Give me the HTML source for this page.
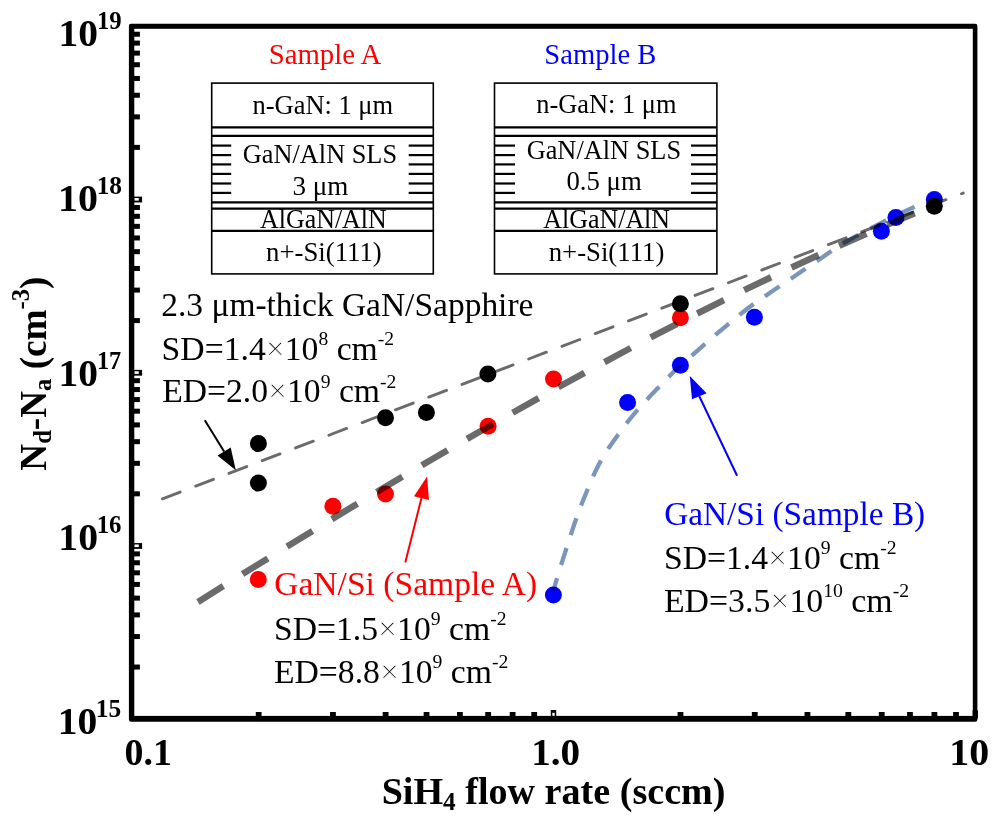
<!DOCTYPE html><html><head><meta charset="utf-8"><style>html,body{margin:0;padding:0;background:#fff;overflow:hidden;}svg{display:block;}text{font-family:"Liberation Serif",serif;}</style></head><body><svg width="1004" height="824" viewBox="0 0 1004 824"><rect width="1004" height="824" fill="#fff"/><rect x="128.9" y="23.7" width="848.5" height="698.1" rx="2.2" fill="#000"/><rect x="134.3" y="28.8" width="838.5" height="687.1" fill="#fff"/><rect x="211.7" y="83.1" width="221.6" height="190.8" fill="none" stroke="#000" stroke-width="1.6"/><line x1="211.7" y1="127.3" x2="433.3" y2="127.3" stroke="#000" stroke-width="2.2"/><line x1="211.7" y1="135.9" x2="433.3" y2="135.9" stroke="#000" stroke-width="2.2"/><line x1="211.7" y1="202.4" x2="433.3" y2="202.4" stroke="#000" stroke-width="2.2"/><line x1="211.7" y1="208.7" x2="433.3" y2="208.7" stroke="#000" stroke-width="2.2"/><line x1="211.7" y1="230.9" x2="433.3" y2="230.9" stroke="#000" stroke-width="2.2"/><line x1="211.7" y1="145.6" x2="231.2" y2="145.6" stroke="#000" stroke-width="2.2"/><line x1="408.7" y1="145.6" x2="433.3" y2="145.6" stroke="#000" stroke-width="2.2"/><line x1="211.7" y1="155.1" x2="231.2" y2="155.1" stroke="#000" stroke-width="2.2"/><line x1="408.7" y1="155.1" x2="433.3" y2="155.1" stroke="#000" stroke-width="2.2"/><line x1="211.7" y1="164.4" x2="231.2" y2="164.4" stroke="#000" stroke-width="2.2"/><line x1="408.7" y1="164.4" x2="433.3" y2="164.4" stroke="#000" stroke-width="2.2"/><line x1="211.7" y1="173.9" x2="231.2" y2="173.9" stroke="#000" stroke-width="2.2"/><line x1="408.7" y1="173.9" x2="433.3" y2="173.9" stroke="#000" stroke-width="2.2"/><line x1="211.7" y1="183.5" x2="231.2" y2="183.5" stroke="#000" stroke-width="2.2"/><line x1="408.7" y1="183.5" x2="433.3" y2="183.5" stroke="#000" stroke-width="2.2"/><line x1="211.7" y1="192.9" x2="231.2" y2="192.9" stroke="#000" stroke-width="2.2"/><line x1="408.7" y1="192.9" x2="433.3" y2="192.9" stroke="#000" stroke-width="2.2"/><rect x="494.5" y="83.1" width="222.4" height="190.8" fill="none" stroke="#000" stroke-width="1.6"/><line x1="494.5" y1="127.3" x2="716.9" y2="127.3" stroke="#000" stroke-width="2.2"/><line x1="494.5" y1="135.9" x2="716.9" y2="135.9" stroke="#000" stroke-width="2.2"/><line x1="494.5" y1="202.4" x2="716.9" y2="202.4" stroke="#000" stroke-width="2.2"/><line x1="494.5" y1="208.7" x2="716.9" y2="208.7" stroke="#000" stroke-width="2.2"/><line x1="494.5" y1="230.9" x2="716.9" y2="230.9" stroke="#000" stroke-width="2.2"/><line x1="494.5" y1="145.6" x2="515" y2="145.6" stroke="#000" stroke-width="2.2"/><line x1="691" y1="145.6" x2="716.9" y2="145.6" stroke="#000" stroke-width="2.2"/><line x1="494.5" y1="155.1" x2="515" y2="155.1" stroke="#000" stroke-width="2.2"/><line x1="691" y1="155.1" x2="716.9" y2="155.1" stroke="#000" stroke-width="2.2"/><line x1="494.5" y1="164.4" x2="515" y2="164.4" stroke="#000" stroke-width="2.2"/><line x1="691" y1="164.4" x2="716.9" y2="164.4" stroke="#000" stroke-width="2.2"/><line x1="494.5" y1="173.9" x2="515" y2="173.9" stroke="#000" stroke-width="2.2"/><line x1="691" y1="173.9" x2="716.9" y2="173.9" stroke="#000" stroke-width="2.2"/><line x1="494.5" y1="183.5" x2="515" y2="183.5" stroke="#000" stroke-width="2.2"/><line x1="691" y1="183.5" x2="716.9" y2="183.5" stroke="#000" stroke-width="2.2"/><line x1="494.5" y1="192.9" x2="515" y2="192.9" stroke="#000" stroke-width="2.2"/><line x1="691" y1="192.9" x2="716.9" y2="192.9" stroke="#000" stroke-width="2.2"/><text transform="translate(252.51,113.9) scale(1.0069,1)" font-size="26.3" font-weight="normal" fill="#000">n-GaN: 1 &#956;m</text><text transform="translate(242.87,162.9) scale(1.0006,1)" font-size="26.3" font-weight="normal" fill="#000">GaN/AlN SLS</text><text transform="translate(292.40,195.0) scale(1.0306,1)" font-size="26.3" font-weight="normal" fill="#000">3 &#956;m</text><text transform="translate(260.07,227.7) scale(0.9854,1)" font-size="26.3" font-weight="normal" fill="#000">AlGaN/AlN</text><text transform="translate(266.00,260.6) scale(1.0182,1)" font-size="26.3" font-weight="normal" fill="#000">n+-Si(111)</text><text transform="translate(536.21,113.1) scale(1.0047,1)" font-size="26.3" font-weight="normal" fill="#000">n-GaN: 1 &#956;m</text><text transform="translate(526.66,158.8) scale(1.0019,1)" font-size="26.3" font-weight="normal" fill="#000">GaN/AlN SLS</text><text transform="translate(566.47,190.4) scale(1.0169,1)" font-size="26.3" font-weight="normal" fill="#000">0.5 &#956;m</text><text transform="translate(543.27,227.7) scale(0.9870,1)" font-size="26.3" font-weight="normal" fill="#000">AlGaN/AlN</text><text transform="translate(548.70,260.6) scale(1.0174,1)" font-size="26.3" font-weight="normal" fill="#000">n+-Si(111)</text><text transform="translate(268.63,64.2) scale(0.9930,1)" font-size="29" font-weight="normal" fill="#f00">Sample A</text><text transform="translate(544.34,63.8) scale(0.9874,1)" font-size="29" font-weight="normal" fill="#00f">Sample B</text><text transform="translate(161.20,316.0) scale(0.9999,1)" font-size="33.5" font-weight="normal" fill="#000">2.3 &#956;m-thick GaN/Sapphire</text><text transform="translate(161.62,359.9) scale(1.0056,1)" font-size="33.5" font-weight="normal" fill="#000">SD=1.4<tspan stroke="#fff" stroke-width="0.8">&#215;</tspan>10<tspan font-size="19.5" dy="-14.6">8</tspan><tspan dy="14.6"> cm</tspan><tspan font-size="19.5" dy="-14.6">-2</tspan></text><text transform="translate(162.21,402.4) scale(1.0043,1)" font-size="33.5" font-weight="normal" fill="#000">ED=2.0<tspan stroke="#fff" stroke-width="0.8">&#215;</tspan>10<tspan font-size="19.5" dy="-14.6">9</tspan><tspan dy="14.6"> cm</tspan><tspan font-size="19.5" dy="-14.6">-2</tspan></text><text transform="translate(274.16,595.3) scale(1.0027,1)" font-size="33.5" font-weight="normal" fill="#f00">GaN/Si (Sample A)</text><text transform="translate(273.92,639.6) scale(1.0064,1)" font-size="33.5" font-weight="normal" fill="#000">SD=1.5<tspan stroke="#fff" stroke-width="0.8">&#215;</tspan>10<tspan font-size="19.5" dy="-14.6">9</tspan><tspan dy="14.6"> cm</tspan><tspan font-size="19.5" dy="-14.6">-2</tspan></text><text transform="translate(273.91,682.5) scale(1.0064,1)" font-size="33.5" font-weight="normal" fill="#000">ED=8.8<tspan stroke="#fff" stroke-width="0.8">&#215;</tspan>10<tspan font-size="19.5" dy="-14.6">9</tspan><tspan dy="14.6"> cm</tspan><tspan font-size="19.5" dy="-14.6">-2</tspan></text><text transform="translate(664.17,525.3) scale(0.9954,1)" font-size="33.5" font-weight="normal" fill="#00f">GaN/Si (Sample B)</text><text transform="translate(663.92,568.9) scale(1.0060,1)" font-size="33.5" font-weight="normal" fill="#000">SD=1.4<tspan stroke="#fff" stroke-width="0.8">&#215;</tspan>10<tspan font-size="19.5" dy="-14.6">9</tspan><tspan dy="14.6"> cm</tspan><tspan font-size="19.5" dy="-14.6">-2</tspan></text><text transform="translate(663.91,611.8) scale(1.0097,1)" font-size="33.5" font-weight="normal" fill="#000">ED=3.5<tspan stroke="#fff" stroke-width="0.8">&#215;</tspan>10<tspan font-size="19.5" dy="-14.6">10</tspan><tspan dy="14.6"> cm</tspan><tspan font-size="19.5" dy="-14.6">-2</tspan></text><text transform="translate(58.52,46.0) scale(1.0684,1)" font-size="37" font-weight="bold" fill="#000">10</text><text transform="translate(96.91,28.7) scale(0.9906,1)" font-size="25" font-weight="bold" fill="#000">19</text><text transform="translate(58.09,211.0) scale(1.0806,1)" font-size="37" font-weight="bold" fill="#000">10</text><text transform="translate(96.66,193.7) scale(1.0157,1)" font-size="25" font-weight="bold" fill="#000">18</text><text transform="translate(58.52,385.8) scale(1.0684,1)" font-size="37" font-weight="bold" fill="#000">10</text><text transform="translate(96.94,368.7) scale(0.9748,1)" font-size="25" font-weight="bold" fill="#000">17</text><text transform="translate(58.30,549.8) scale(1.0745,1)" font-size="37" font-weight="bold" fill="#000">10</text><text transform="translate(96.71,532.7) scale(0.9931,1)" font-size="25" font-weight="bold" fill="#000">16</text><text transform="translate(57.72,733.8) scale(1.0684,1)" font-size="37" font-weight="bold" fill="#000">10</text><text transform="translate(95.86,716.8) scale(1.0178,1)" font-size="25" font-weight="bold" fill="#000">15</text><text transform="translate(124.62,765.0) scale(1.0238,1)" font-size="37" font-weight="bold" fill="#000">0.1</text><text transform="translate(531.25,764.8) scale(1.0587,1)" font-size="37" font-weight="bold" fill="#000">1.0</text><text transform="translate(949.29,765.0) scale(1.0806,1)" font-size="37" font-weight="bold" fill="#000">10</text><text transform="translate(381.66,804.2) scale(1.0304,1)" font-size="37" font-weight="bold" fill="#000">SiH<tspan font-size="24.5" dy="5.5">4</tspan><tspan dy="-5.5"> flow rate (sccm)</tspan></text><text transform="translate(45.8,470.72) rotate(-90) scale(1.0055,1)" font-size="37" font-weight="bold" fill="#000">N<tspan font-size="24.5" dy="5">d</tspan><tspan dy="-5">-N</tspan><tspan font-size="24.5" dy="5">a</tspan><tspan dy="-5"> (cm</tspan><tspan font-size="24.5" dy="-17">-3</tspan><tspan dy="17">)</tspan></text><circle cx="553.4" cy="595.1" r="8.5" fill="#0000ff"/><circle cx="627.6" cy="402.5" r="8.5" fill="#0000ff"/><circle cx="680.4" cy="365.2" r="8.5" fill="#0000ff"/><circle cx="754.4" cy="317.2" r="8.5" fill="#0000ff"/><circle cx="881.4" cy="231.3" r="8.5" fill="#0000ff"/><circle cx="895.9" cy="217.4" r="8.5" fill="#0000ff"/><circle cx="934.3" cy="199.6" r="8.5" fill="#0000ff"/><circle cx="258.3" cy="579.5" r="8.5" fill="#ff0000"/><circle cx="332.9" cy="506.2" r="8.5" fill="#ff0000"/><circle cx="385.5" cy="494" r="8.5" fill="#ff0000"/><circle cx="488.1" cy="426.3" r="8.5" fill="#ff0000"/><circle cx="553.5" cy="379" r="8.5" fill="#ff0000"/><circle cx="680.4" cy="317.7" r="8.5" fill="#ff0000"/><circle cx="258.4" cy="443.6" r="8.5" fill="#000"/><circle cx="258.4" cy="483.1" r="8.5" fill="#000"/><circle cx="385.5" cy="417.7" r="8.5" fill="#000"/><circle cx="426.4" cy="412.5" r="8.5" fill="#000"/><circle cx="487.9" cy="373.9" r="8.5" fill="#000"/><circle cx="680.4" cy="303.7" r="8.5" fill="#000"/><circle cx="934.3" cy="206.3" r="8.5" fill="#000"/><path d="M197.6,602.18 C445.07,446.86 692.53,301.92 940,202.94" fill="none" stroke="#6b6b6b" stroke-width="6.5" stroke-dasharray="29.8 22.63" stroke-dashoffset="-0.5" style="mix-blend-mode:multiply"/><line x1="162.37" y1="498.8" x2="963.23" y2="193.1" stroke="#6b6b6b" stroke-width="2.9" stroke-linecap="round" stroke-dasharray="19 16.64" style="mix-blend-mode:multiply"/><path d="M942.30,197.20 C939.69,197.97 931.64,200.08 926.62,201.85 C921.61,203.63 917.00,205.74 912.23,207.85 C907.45,209.96 902.67,212.23 897.97,214.50 C893.28,216.77 888.64,219.14 884.05,221.48 C879.46,223.81 874.96,226.15 870.43,228.50 C865.89,230.85 861.31,233.15 856.83,235.60 C852.34,238.05 847.86,240.52 843.50,243.18 C839.14,245.83 834.95,248.68 830.68,251.55 C826.40,254.43 822.17,257.47 817.85,260.43 C813.53,263.38 809.08,266.38 804.77,269.30 C800.47,272.22 796.26,275.07 792.00,277.95 C787.74,280.83 783.52,283.66 779.20,286.57 C774.88,289.49 770.42,292.49 766.10,295.45 C761.78,298.41 757.46,301.30 753.27,304.35 C749.09,307.40 745.03,310.53 740.97,313.75 C736.92,316.97 732.95,320.36 728.95,323.67 C724.95,326.99 720.91,330.27 716.95,333.62 C712.99,336.98 709.13,340.38 705.18,343.82 C701.22,347.27 697.24,350.80 693.23,354.30 C689.21,357.80 685.00,361.26 681.10,364.83 C677.20,368.39 673.46,372.00 669.80,375.67 C666.14,379.35 662.68,383.12 659.12,386.85 C655.57,390.57 652.03,394.22 648.47,398.02 C644.92,401.82 641.28,405.65 637.80,409.65 C634.32,413.65 630.86,417.85 627.58,422.03 C624.29,426.20 621.21,430.38 618.10,434.68 C614.99,438.97 611.85,443.31 608.90,447.80 C605.95,452.29 602.98,456.98 600.40,461.62 C597.82,466.27 595.62,470.91 593.42,475.67 C591.23,480.44 589.29,485.30 587.25,490.23 C585.21,495.15 583.12,500.23 581.20,505.23 C579.28,510.22 577.47,515.17 575.70,520.20 C573.93,525.23 572.25,530.30 570.58,535.40 C568.90,540.50 567.26,545.67 565.62,550.80 C563.99,555.93 562.27,561.34 560.75,566.20 C559.23,571.06 557.71,575.82 556.50,579.95 C555.29,584.08 554.00,589.16 553.50,591.00" fill="none" stroke="#7a96bc" stroke-width="4.3" stroke-dasharray="17.8 13.6" stroke-dashoffset="2" style="mix-blend-mode:multiply"/><line x1="204.8" y1="420.2" x2="224.1" y2="451.45" stroke="#000" stroke-width="2"/><polygon points="235.8,470.3 217.5,455.5 230.7,447.4" fill="#000"/><line x1="405.3" y1="562.5" x2="421.5" y2="498.04999999999995" stroke="#f00" stroke-width="2"/><polygon points="427.1,476.6 414,496.2 429,499.9" fill="#f00"/><line x1="737.1" y1="475.7" x2="699.3" y2="396.25" stroke="#00f" stroke-width="2"/><polygon points="689.8,376 692,399.3 706.6,393.2" fill="#00f"/><rect x="131.7" y="664.55" width="8.20" height="5" fill="#000"/><rect x="131.7" y="634.05" width="8.20" height="5" fill="#000"/><rect x="131.7" y="612.41" width="8.20" height="5" fill="#000"/><rect x="131.7" y="595.62" width="8.20" height="5" fill="#000"/><rect x="131.7" y="581.90" width="8.20" height="5" fill="#000"/><rect x="131.7" y="570.31" width="8.20" height="5" fill="#000"/><rect x="131.7" y="560.26" width="8.20" height="5" fill="#000"/><rect x="131.7" y="551.40" width="8.20" height="5" fill="#000"/><rect x="131.7" y="491.33" width="8.20" height="5" fill="#000"/><rect x="131.7" y="460.83" width="8.20" height="5" fill="#000"/><rect x="131.7" y="439.18" width="8.20" height="5" fill="#000"/><rect x="131.7" y="422.40" width="8.20" height="5" fill="#000"/><rect x="131.7" y="408.68" width="8.20" height="5" fill="#000"/><rect x="131.7" y="397.08" width="8.20" height="5" fill="#000"/><rect x="131.7" y="387.04" width="8.20" height="5" fill="#000"/><rect x="131.7" y="378.18" width="8.20" height="5" fill="#000"/><rect x="131.7" y="318.10" width="8.20" height="5" fill="#000"/><rect x="131.7" y="287.60" width="8.20" height="5" fill="#000"/><rect x="131.7" y="265.96" width="8.20" height="5" fill="#000"/><rect x="131.7" y="249.17" width="8.20" height="5" fill="#000"/><rect x="131.7" y="235.45" width="8.20" height="5" fill="#000"/><rect x="131.7" y="223.86" width="8.20" height="5" fill="#000"/><rect x="131.7" y="213.81" width="8.20" height="5" fill="#000"/><rect x="131.7" y="204.95" width="8.20" height="5" fill="#000"/><rect x="131.7" y="144.88" width="8.20" height="5" fill="#000"/><rect x="131.7" y="114.38" width="8.20" height="5" fill="#000"/><rect x="131.7" y="92.73" width="8.20" height="5" fill="#000"/><rect x="131.7" y="75.95" width="8.20" height="5" fill="#000"/><rect x="131.7" y="62.23" width="8.20" height="5" fill="#000"/><rect x="131.7" y="50.63" width="8.20" height="5" fill="#000"/><rect x="131.7" y="40.59" width="8.20" height="5" fill="#000"/><rect x="131.7" y="31.73" width="8.20" height="5" fill="#000"/><rect x="131.7" y="543.08" width="10.40" height="5.8" fill="#000"/><rect x="134.5" y="544.48" width="4.3" height="2.6" fill="#fff"/><rect x="131.7" y="369.85" width="10.40" height="5.8" fill="#000"/><rect x="134.5" y="371.25" width="4.3" height="2.6" fill="#fff"/><rect x="131.7" y="196.63" width="10.40" height="5.8" fill="#000"/><rect x="134.5" y="198.03" width="4.3" height="2.6" fill="#fff"/><rect x="255.77" y="712" width="5.8" height="7.20" fill="#000"/><rect x="330.05" y="712" width="5.8" height="7.20" fill="#000"/><rect x="382.75" y="712" width="5.8" height="7.20" fill="#000"/><rect x="423.63" y="712" width="5.8" height="7.20" fill="#000"/><rect x="457.02" y="712" width="5.8" height="7.20" fill="#000"/><rect x="485.26" y="712" width="5.8" height="7.20" fill="#000"/><rect x="509.72" y="712" width="5.8" height="7.20" fill="#000"/><rect x="531.30" y="712" width="5.8" height="7.20" fill="#000"/><rect x="677.57" y="712" width="5.8" height="7.20" fill="#000"/><rect x="751.85" y="712" width="5.8" height="7.20" fill="#000"/><rect x="804.55" y="712" width="5.8" height="7.20" fill="#000"/><rect x="845.43" y="712" width="5.8" height="7.20" fill="#000"/><rect x="878.82" y="712" width="5.8" height="7.20" fill="#000"/><rect x="907.06" y="712" width="5.8" height="7.20" fill="#000"/><rect x="931.52" y="712" width="5.8" height="7.20" fill="#000"/><rect x="953.10" y="712" width="5.8" height="7.20" fill="#000"/><rect x="972.60" y="710.3" width="5.4" height="8" fill="#000"/><rect x="550.80" y="710" width="5.4" height="9.20" fill="#000"/><rect x="552.30" y="712.8" width="2.4" height="3" fill="#fff"/></svg></body></html>
